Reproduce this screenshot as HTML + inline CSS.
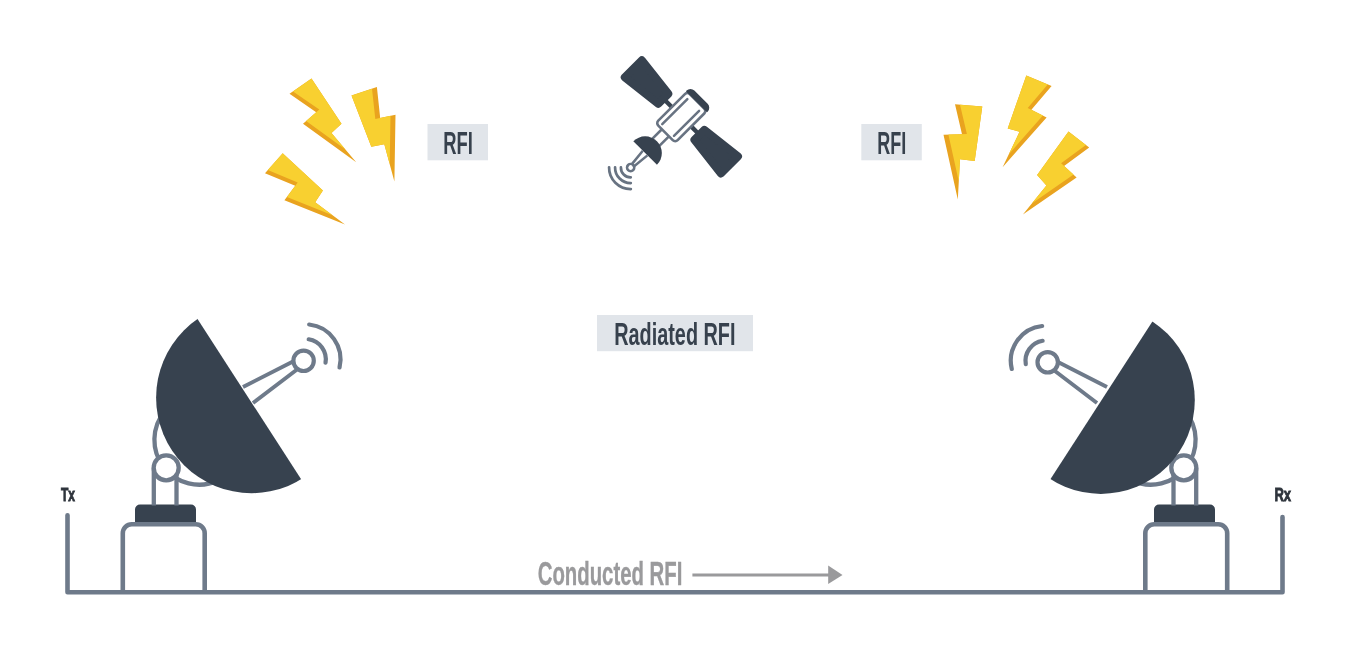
<!DOCTYPE html>
<html><head><meta charset="utf-8">
<style>
html,body{margin:0;padding:0;background:#fff;width:1350px;height:650px;overflow:hidden}
svg{display:block;position:absolute;left:0;top:0;will-change:transform}
text{font-family:"Liberation Sans",sans-serif;font-weight:bold}
</style></head><body>
<svg width="1350" height="650" viewBox="0 0 1350 650">
<path d="M67.5,515.3 V592.3 H1282.5 V517" fill="none" stroke="#6e7a8a" stroke-width="4.6" stroke-linecap="round" stroke-linejoin="round"/>
<g>
<clipPath id="dcl"><polygon points="35.6,68.5 524.2,824.3 188.3,1041.4 -300.3,285.6"/></clipPath>
<path d="M218.13,480.50 A44.80,44.80 0 0 1 164.88,411.10" fill="none" stroke="#6e7a8a" stroke-width="4.30"/>
<path d="M122.80,592 V533.30 A9.0,9.0 0 0 1 131.80,524.30 H195.70 A9.0,9.0 0 0 1 204.70,533.30 V592" fill="none" stroke="#6e7a8a" stroke-width="4.6"/>
<path d="M135.00,522.00 V509.50 A5,5 0 0 1 140.00,504.50 H191.00 A5,5 0 0 1 196.00,509.50 V522.00 Z" fill="#37424f"/>
<path d="M153.80,467.80 V505.50 M176.50,467.80 V505.50" stroke="#6e7a8a" stroke-width="4.30" fill="none"/>
<circle cx="166.20" cy="467.80" r="12.50" fill="#fff" stroke="#6e7a8a" stroke-width="4.30"/>
<path d="M243.00,387.00 L293.00,361.50 M253.00,403.00 L297.70,369.00" stroke="#6e7a8a" stroke-width="3.90" fill="none"/>
<circle cx="251.60" cy="397.70" r="95.50" fill="#37424f" clip-path="url(#dcl)"/>
<circle cx="303.60" cy="360.80" r="10.20" fill="#fff" stroke="#6e7a8a" stroke-width="4.20"/>
<path d="M308.68,339.25 A20.30,20.30 0 0 1 325.51,362.72" fill="none" stroke="#6e7a8a" stroke-width="4.20" stroke-linecap="round"/>
<path d="M309.16,324.49 A35.00,35.00 0 0 1 339.53,367.47" fill="none" stroke="#6e7a8a" stroke-width="4.20" stroke-linecap="round"/>
</g>
<g transform="translate(1350,0) scale(-1,1)">
<clipPath id="dcr"><polygon points="35.1,70.3 523.9,826.0 188.0,1043.2 -300.8,287.6"/></clipPath>
<path d="M218.13,480.50 A44.80,44.80 0 0 1 164.88,411.10" fill="none" stroke="#6e7a8a" stroke-width="4.30"/>
<path d="M122.80,592 V533.30 A9.0,9.0 0 0 1 131.80,524.30 H195.70 A9.0,9.0 0 0 1 204.70,533.30 V592" fill="none" stroke="#6e7a8a" stroke-width="4.6"/>
<path d="M135.00,522.00 V509.50 A5,5 0 0 1 140.00,504.50 H191.00 A5,5 0 0 1 196.00,509.50 V522.00 Z" fill="#37424f"/>
<path d="M153.80,467.80 V505.50 M176.50,467.80 V505.50" stroke="#6e7a8a" stroke-width="4.30" fill="none"/>
<circle cx="166.20" cy="467.80" r="12.50" fill="#fff" stroke="#6e7a8a" stroke-width="4.30"/>
<path d="M243.00,387.00 L293.00,361.50 M253.00,403.00 L297.70,369.00" stroke="#6e7a8a" stroke-width="3.90" fill="none"/>
<circle cx="249.10" cy="400.00" r="93.90" fill="#37424f" clip-path="url(#dcr)"/>
<circle cx="302.30" cy="362.30" r="10.20" fill="#fff" stroke="#6e7a8a" stroke-width="4.20"/>
<path d="M307.38,340.75 A20.30,20.30 0 0 1 324.21,364.22" fill="none" stroke="#6e7a8a" stroke-width="4.20" stroke-linecap="round"/>
<path d="M307.86,325.99 A35.00,35.00 0 0 1 338.23,368.97" fill="none" stroke="#6e7a8a" stroke-width="4.20" stroke-linecap="round"/>
</g>
<text x="61" y="501" font-size="18" fill="#2f353d" stroke="#2f353d" stroke-width="0.9" textLength="14" lengthAdjust="spacingAndGlyphs">Tx</text>
<text x="1274.4" y="501" font-size="18" fill="#2f353d" stroke="#2f353d" stroke-width="0.9" textLength="16.6" lengthAdjust="spacingAndGlyphs">Rx</text>
<rect x="427.5" y="124" width="60.5" height="36.3" fill="#e1e5ea"/>
<text x="443.2" y="154.3" font-size="32" fill="#37414d" textLength="29.6" lengthAdjust="spacingAndGlyphs">RFI</text>
<rect x="861.3" y="124" width="60.5" height="36.3" fill="#e1e5ea"/>
<text x="877.2" y="154.1" font-size="32" fill="#37414d" textLength="29" lengthAdjust="spacingAndGlyphs">RFI</text>
<rect x="597" y="315" width="156" height="36.2" fill="#e1e5ea"/>
<text x="614.2" y="345" font-size="32" fill="#37414d" textLength="121.3" lengthAdjust="spacingAndGlyphs">Radiated RFI</text>
<text x="537.7" y="584.6" font-size="33.5" fill="#9a9a9c" stroke="#9a9a9c" stroke-width="0.4" textLength="144.6" lengthAdjust="spacingAndGlyphs">Conducted RFI</text>
<path d="M692.4,575 H832" stroke="#9a9a9c" stroke-width="2.8"/>
<path d="M828.2,565.6 L842.5,574.9 L828.2,584 Z" fill="#9a9a9c"/>
<g>
<polygon points="311.5,78.5 289.5,93.8 316.2,112.3 303.0,123.8 356.2,162.3 331.5,133.0 341.5,123.8" fill="#e9a31f"/>
<polygon points="311.5,78.5 293.0,91.4 319.3,109.6 306.1,121.1 345.5,149.6 331.5,133.0 341.5,123.8" fill="#f8d030"/>
<polygon points="351.5,95.6 376.9,87.1 380.2,118.0 395.5,114.7 394.4,181.5 384.3,144.3 371.3,146.8" fill="#e9a31f"/>
<polygon points="351.5,95.6 372.0,88.7 375.3,119.1 390.5,115.8 389.7,164.1 384.3,144.3 371.3,146.8" fill="#f8d030"/>
<polygon points="282.7,153.2 265.0,173.2 295.2,185.7 284.4,200.2 345.0,224.5 315.2,202.3 322.9,190.6" fill="#e9a31f"/>
<polygon points="282.7,153.2 267.8,170.0 297.7,182.4 286.9,196.9 332.5,215.2 315.2,202.3 322.9,190.6" fill="#f8d030"/>
<polygon points="955.0,104.3 982.3,106.5 974.7,160.9 960.0,159.2 957.8,199.4 943.5,134.7 962.0,134.2" fill="#e9a31f"/>
<polygon points="960.0,104.7 982.3,106.5 974.7,160.9 960.0,159.2 958.8,181.6 948.4,134.6 966.9,134.1" fill="#f8d030"/>
<polygon points="1026.3,75.5 1051.6,86.1 1031.4,109.8 1046.6,117.4 1002.6,167.3 1019.5,131.8 1007.7,128.4" fill="#e9a31f"/>
<polygon points="1026.3,75.5 1047.7,84.5 1027.7,108.0 1042.9,115.5 1008.9,154.2 1019.5,131.8 1007.7,128.4" fill="#f8d030"/>
<polygon points="1068.5,131.6 1089.2,147.5 1064.1,166.0 1076.6,177.4 1022.9,214.5 1046.4,185.4 1037.1,174.9" fill="#e9a31f"/>
<polygon points="1068.5,131.6 1085.9,145.0 1061.1,163.3 1073.6,174.6 1031.8,203.5 1046.4,185.4 1037.1,174.9" fill="#f8d030"/>

</g>
<g transform="translate(681.2,117) rotate(45)">
  <polygon points="-68,-12.3 -25.5,-7.3 -25.5,6.8 -68,11.8" fill="#37424f" stroke="#37424f" stroke-width="8" stroke-linejoin="round"/>
  <polygon points="68,-12.3 25.5,-7.3 25.5,6.8 68,11.8" fill="#37424f" stroke="#37424f" stroke-width="8" stroke-linejoin="round"/>
  <rect x="-23" y="-2.6" width="10" height="4.4" fill="#37424f"/>
  <rect x="13" y="-2.6" width="10" height="4.4" fill="#37424f"/>
  <path d="M-5,22 V37 M5,22 V37" stroke="#687382" stroke-width="2.6" fill="none"/>
  <rect x="-13.6" y="-22.3" width="27.4" height="44.6" rx="3.5" fill="#fff" stroke="#687382" stroke-width="2.6"/>
  <path d="M-8.3,-17 V18.5 M8.3,-17 V18.5" stroke="#687382" stroke-width="2.5" stroke-linecap="round"/>
  <path d="M-14.9,-21.5 V-22.5 A5.5,5.5 0 0 1 -9.4,-28 H9.4 A5.5,5.5 0 0 1 14.9,-22.5 V-21.5 Z" fill="#37424f"/>
  <path d="M-16.7,51 A16.7,16.7 0 0 1 16.7,51 Z" fill="#37424f"/>
  <path d="M-3.3,51 L-1.5,68.5 M3.3,51 L1.5,68.5" stroke="#687382" stroke-width="2.5"/>
  <circle cx="0" cy="71.5" r="3.6" fill="#fff" stroke="#687382" stroke-width="2.6"/>
  <g fill="none" stroke="#687382" stroke-width="2.7" stroke-linecap="round">
    <path d="M6.95,78.3 A9.5,9.5 0 0 1 -6.95,78.3"/>
    <path d="M11.1,82.4 A15.5,15.5 0 0 1 -11.1,82.4"/>
    <path d="M15.4,86.6 A21.5,21.5 0 0 1 -15.4,86.6"/>
  </g>
</g>

</svg>
</body></html>
